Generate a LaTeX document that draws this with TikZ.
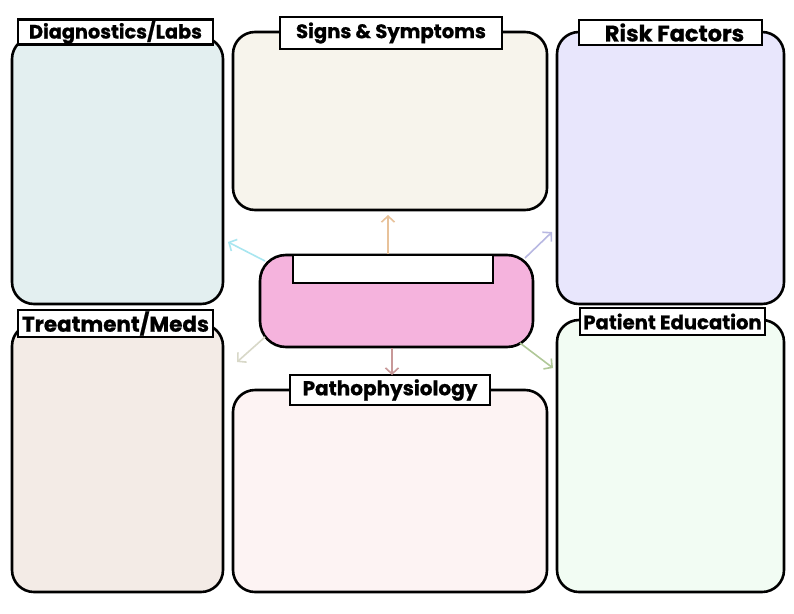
\documentclass[tikz,border=0pt]{standalone}
\usepackage{fontspec}
\setmainfont{Poppins}[BoldFeatures={FakeBold=0.8}]
\usetikzlibrary{arrows.meta}
\definecolor{cDiag}{HTML}{E3EFF0}
\definecolor{cSigns}{HTML}{F7F4EC}
\definecolor{cRisk}{HTML}{E8E6FC}
\definecolor{cTreat}{HTML}{F3EBE6}
\definecolor{cPatho}{HTML}{FDF3F3}
\definecolor{cEdu}{HTML}{F2FCF3}
\definecolor{cPink}{HTML}{F5B3DD}
\definecolor{aUp}{HTML}{E8C29A}
\definecolor{aLU}{HTML}{A8E6F0}
\definecolor{aRU}{HTML}{B8B8E2}
\definecolor{aLL}{HTML}{D8D8C8}
\definecolor{aRL}{HTML}{B0C898}
\definecolor{aDn}{HTML}{C89898}
\newcommand\tagfont[1]{\fontsize{#1}{#1}\selectfont\bfseries}
\begin{document}
\begin{tikzpicture}[x=1pt,y=-1pt,
  panel/.style={draw=black, line width=2.6pt, rounded corners=22pt, inner sep=0pt, outer sep=0pt},
  tag/.style={draw=black, fill=white, line width=2.4pt, inner sep=0pt, outer sep=0pt},
  conn/.style={line width=1.6pt, -{Straight Barb[length=6pt,width=13pt]}}
]
\useasboundingbox[fill=white] (0,0) rectangle (794,613);
% panels
\node[panel, fill=cDiag, minimum width=211pt, minimum height=267pt] (diag) at (117.5,170.5) {};
\node[panel, fill=cSigns, minimum width=314pt, minimum height=178pt] (signs) at (390,121) {};
\node[panel, fill=cRisk, minimum width=227pt, minimum height=272pt] (risk) at (670.5,168) {};
\node[panel, fill=cTreat, minimum width=211pt, minimum height=268pt] (treat) at (117.5,458) {};
\node[panel, fill=cPatho, minimum width=314pt, minimum height=202pt] (patho) at (390,491) {};
\node[panel, fill=cEdu, minimum width=227pt, minimum height=272pt] (edu) at (670.5,456) {};
% labels
\node[tag, minimum width=195pt, minimum height=25pt] (ldiag) at (115.5,32) {};
\node[font=\tagfont{19.3}] at (ldiag) {Diagnostics/Labs};
\node[tag, minimum width=222pt, minimum height=32pt] (lsigns) at (391,33) {};
\node[font=\tagfont{19.6}] at (lsigns) {Signs \& Symptoms};
\node[tag, minimum width=183pt, minimum height=25pt] (lrisk) at (670.5,32.5) {};
\node[font=\tagfont{22.5}] at ([xshift=4pt]lrisk) {Risk Factors};
\node[tag, minimum width=195pt, minimum height=27pt] (ltreat) at (115.5,323.5) {};
\node[font=\tagfont{21.5}] at (ltreat) {Treatment/Meds};
\node[tag, minimum width=185pt, minimum height=27pt] (ledu) at (672.5,321.5) {};
\node[font=\tagfont{19.6}] at (ledu) {Patient Education};
\node[tag, minimum width=200pt, minimum height=30pt] (lpatho) at (390,390) {};
\node[font=\tagfont{20}] at (lpatho) {Pathophysiology};
% center
\node[panel, fill=cPink, rounded corners=26pt, minimum width=273pt, minimum height=92pt] (ctr) at (396.5,301) {};
\node[draw=black, fill=white, line width=2.4pt, inner sep=0pt, minimum width=200pt, minimum height=28pt] (ctitle) at (393,269) {};
% arrow end points
\coordinate (eUp) at (388,215);
\coordinate (eLU) at (228,242);
\coordinate (eRU) at (552,232);
\coordinate (eLL) at (237,362);
\coordinate (eRL) at (553,368);
\coordinate (eDn) at (392,375);
% arrows
\draw[conn, aUp] ([xshift=-8.5pt,yshift=1pt]ctr.north) -- (eUp);
\draw[conn, aLU] ([xshift=5pt,yshift=-6pt]ctr.north west) -- (eLU);
\draw[conn, aRU] ([xshift=-8pt,yshift=-3pt]ctr.north east) -- (eRU);
\draw[conn, aLL] ([xshift=5pt,yshift=10pt]ctr.south west) -- (eLL);
\draw[conn, aRL] ([xshift=-13pt,yshift=4pt]ctr.south east) -- (eRL);
\draw[conn, aDn] ([xshift=-4.5pt,yshift=-1pt]ctr.south) -- (eDn);
\end{tikzpicture}
\end{document}
